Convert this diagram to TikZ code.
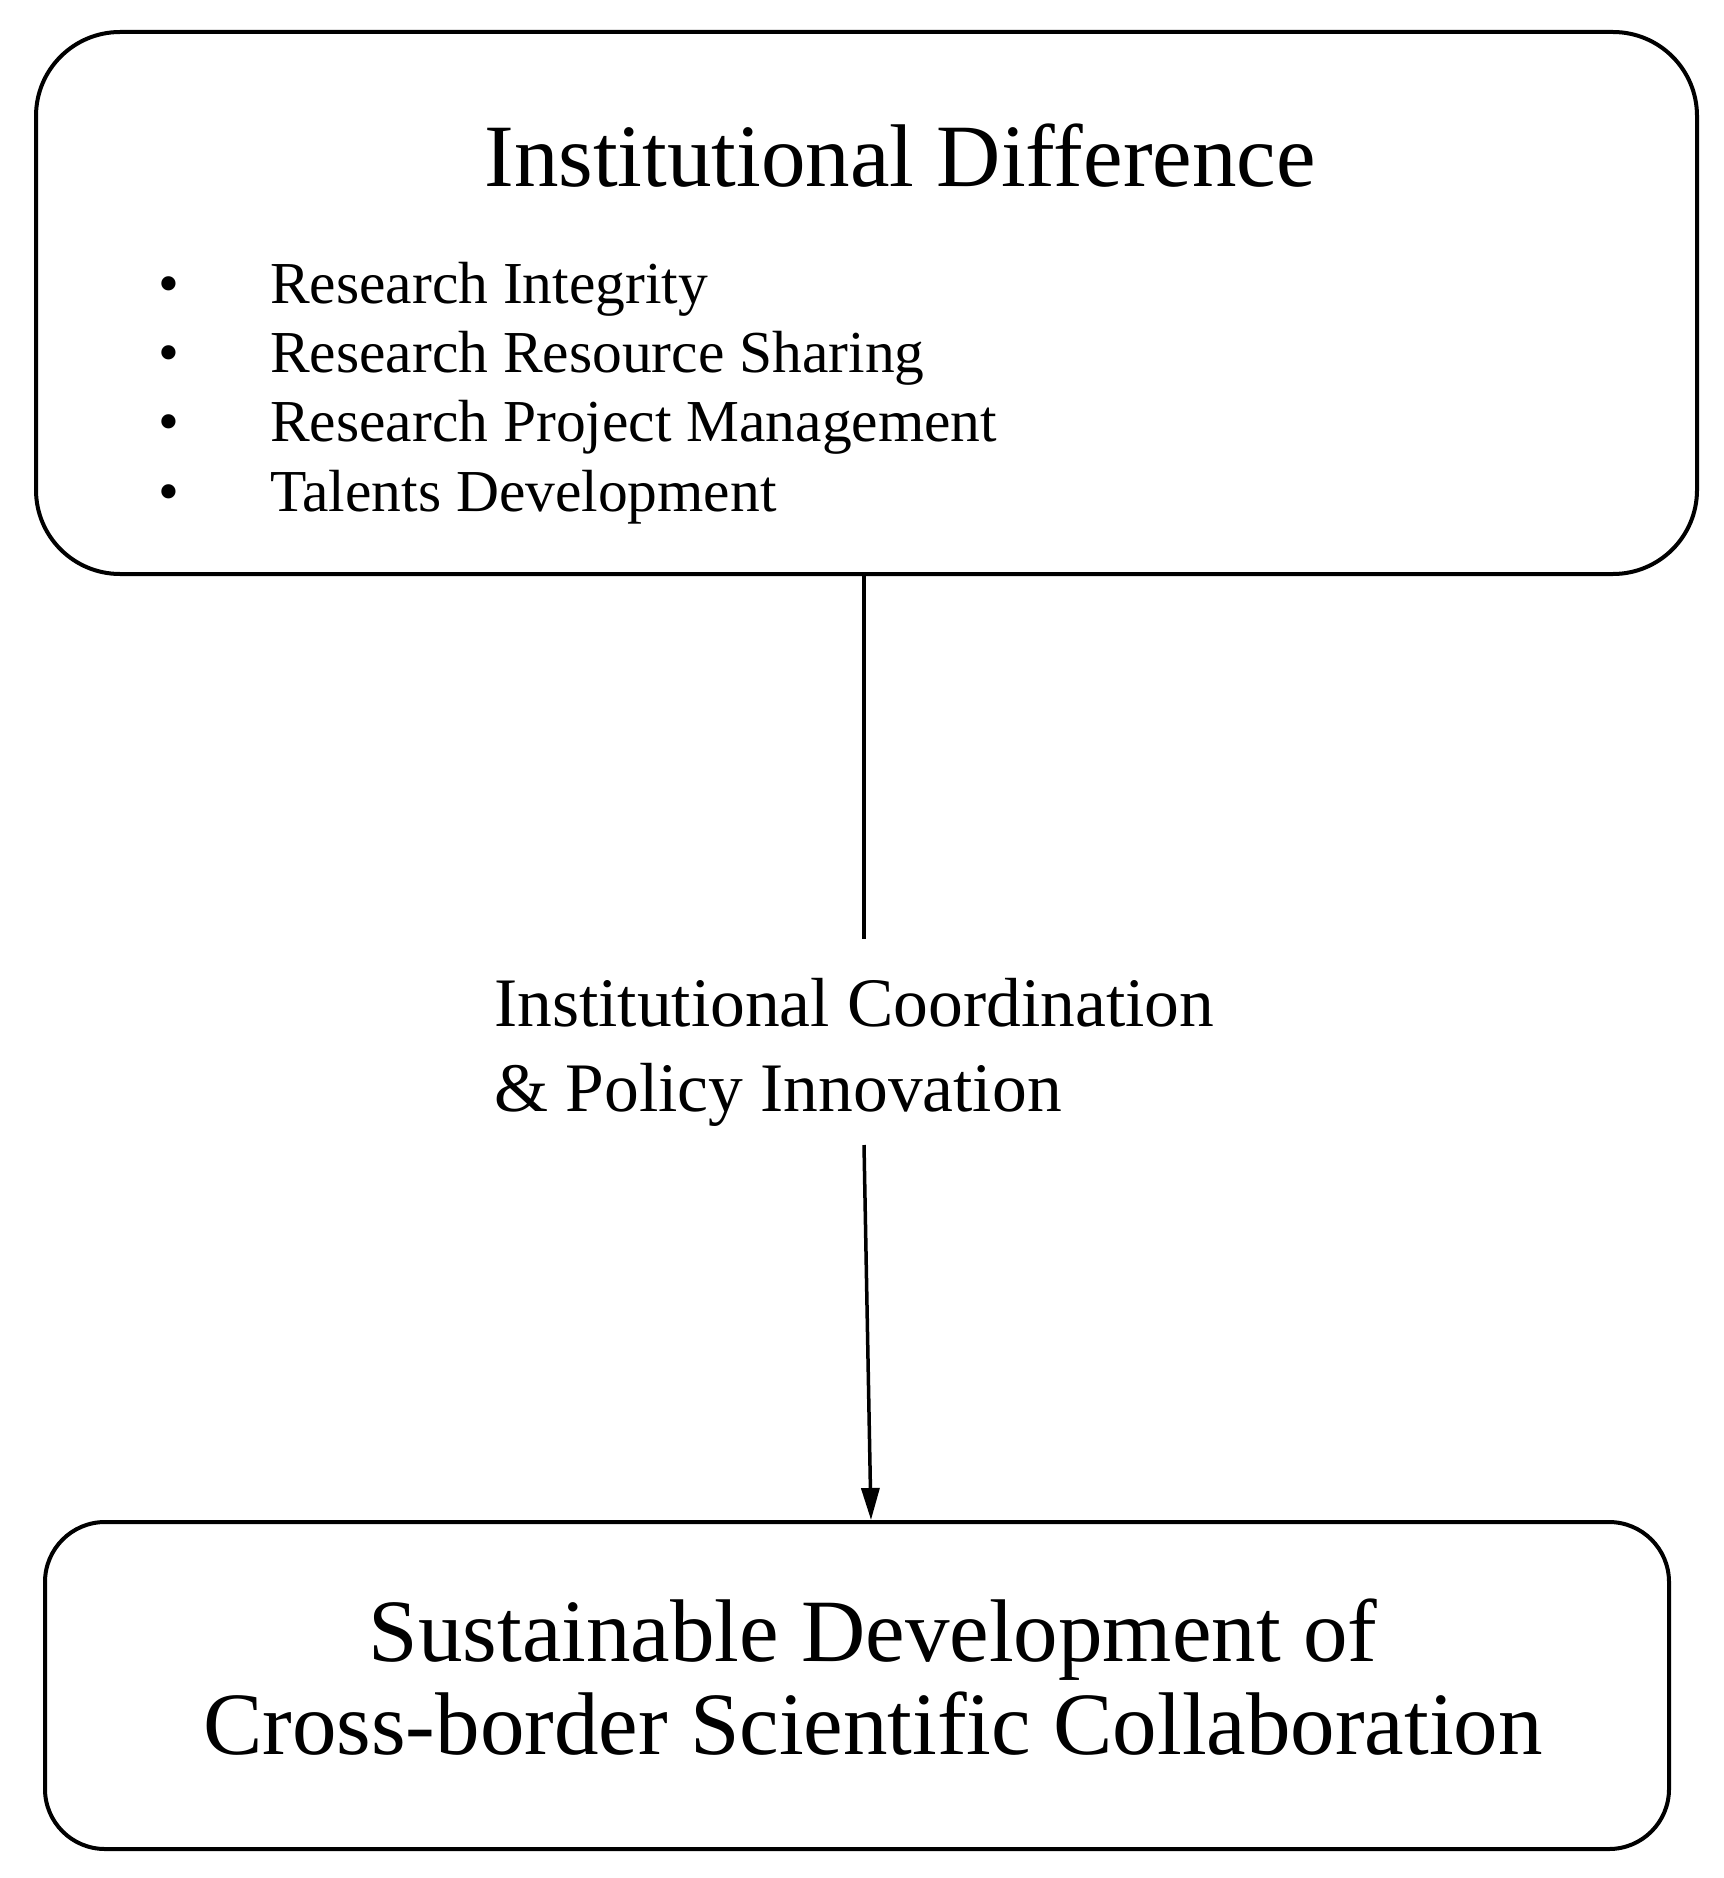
\documentclass[tikz,border=0pt]{standalone}
\usepackage{fontspec}
\setmainfont{Liberation Serif}
\usetikzlibrary{arrows.meta}
\begin{document}
\begin{tikzpicture}[x=1pt,y=-1pt,
  box/.style={draw,line width=4pt,rounded corners=#1,inner sep=0pt},
  conn/.style={line width=3.5pt},
  item/.style={anchor=base west,inner sep=0pt,font=\fontsize{59.5}{64}\selectfont}]
\useasboundingbox (0,0) rectangle (1723,1878);
\node[box=84pt,minimum width=1661pt,minimum height=542pt] (top) at (866.5,303) {};
\node[inner sep=0pt,font=\fontsize{89}{96}\selectfont] (title) at (900,156) {Institutional Difference};
\foreach \t [count=\i] in {Research Integrity,Research Resource Sharing,Research Project Management,Talents Development}{
  \node[item] (b\i) at (158,{284+69.4*(\i-1)+19}) {\textbullet};
  \node[item] (i\i) at (270,{284+69.4*(\i-1)+19}) {\t};
}
\node[inner sep=0pt,align=left,anchor=north west,font=\fontsize{69.5}{85}\selectfont] (mid) at (494,978) {Institutional Coordination\\\& Policy Innovation};
\node[box=60pt,minimum width=1624pt,minimum height=327pt] (bot) at (857,1685.5) {};
\node[inner sep=0pt,align=center,font=\fontsize{89}{93}\selectfont] (btxt) at (873,1677) {Sustainable Development of\\Cross-border Scientific Collaboration};
\coordinate (l1) at (864,939);
\coordinate (a0) at (864,1145);
\coordinate (a1) at (871,0);
\draw[conn] (top.south -| l1) -- (l1);
\draw[conn,-{Triangle[length=32pt,width=18pt]}] (a0) -- (bot.north -| a1);
\end{tikzpicture}
\end{document}
